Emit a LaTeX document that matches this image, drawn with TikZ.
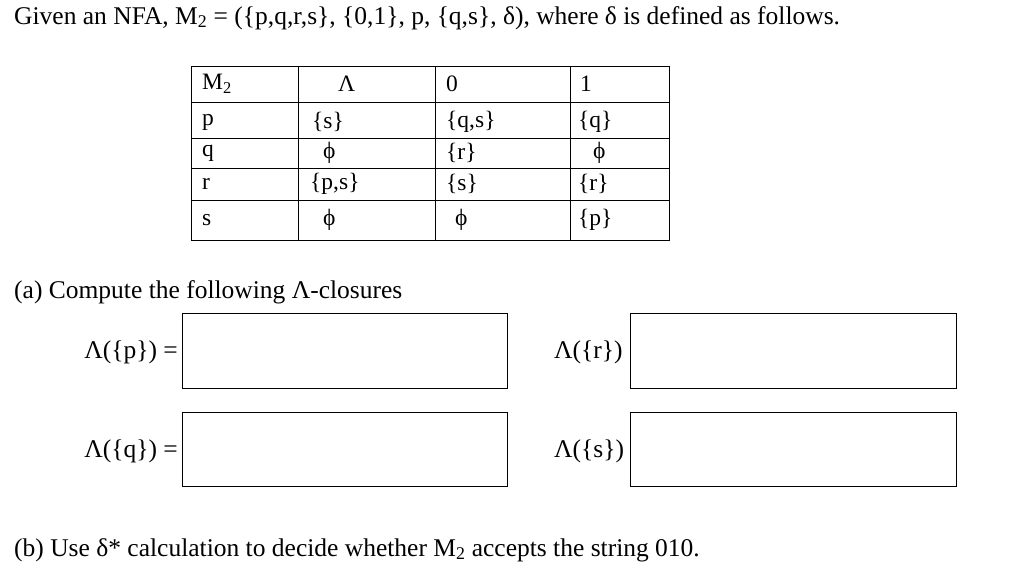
\documentclass[tikz,border=0pt]{standalone}
\usepackage{fontspec}
\setmainfont{Liberation Serif}
\begin{document}
\begin{tikzpicture}[x=1pt,y=-1pt,
  txt/.style={anchor=west,inner sep=0pt,font=\fontsize{25.5}{28}\selectfont},
  cell/.style={anchor=west,inner sep=0pt,font=\fontsize{23.5}{26}\selectfont},
  ansbox/.style={draw,line width=1pt}]
\useasboundingbox[fill=white] (0,0) rectangle (1014,570);
\node[txt] (title) at (14,18) {Given an NFA, M\textsubscript{2} = (\{p,q,r,s\}, \{0,1\}, p, \{q,s\}, δ), where δ is defined as follows.};
% table
\draw[line width=1pt] (191,66) rectangle (669,240);
\foreach \x in {298,435,570} \draw[line width=1pt] (\x,66) -- (\x,240);
\foreach \y in {102,138,168,200} \draw[line width=1pt] (191,\y) -- (669,\y);
\node[cell] (h0) at (202,84) {M\textsubscript{2}};
\node[cell] (h1) at (338,84) {Λ};
\node[cell] (h2) at (446,84) {0};
\node[cell] (h3) at (580,84) {1};
\node[cell] (rp) at (202,122) {p};
\node[cell] (rq) at (202,153) {q};
\node[cell] (rr) at (202,184) {r};
\node[cell] (rs) at (202,220) {s};
\node[cell] (p1) at (312,122) {\{s\}};
\node[cell] (p2) at (446,122) {\{q,s\}};
\node[cell] (p3) at (578,122) {\{q\}};
\node[cell] (q1) at (323,153) {ϕ};
\node[cell] (q2) at (446,153) {\{r\}};
\node[cell] (q3) at (593,153) {ϕ};
\node[cell] (r1) at (310,184) {\{p,s\}};
\node[cell] (r2) at (446,184) {\{s\}};
\node[cell] (r3) at (578,184) {\{r\}};
\node[cell] (s1) at (323,220) {ϕ};
\node[cell] (s2) at (455,220) {ϕ};
\node[cell] (s3) at (578,220) {\{p\}};
% part a
\node[txt] (a) at (14,292) {(a) Compute the following Λ-closures};
\draw[ansbox] (182,313) rectangle (507,388);
\draw[ansbox] (630,313) rectangle (956,388);
\draw[ansbox] (182,412) rectangle (507,486);
\draw[ansbox] (630,412) rectangle (956,486);
\node[txt,anchor=east] (lp) at (178,352) {Λ(\{p\}) =};
\node[txt,anchor=east] (lq) at (178,451) {Λ(\{q\}) =};
\node[txt] (lr) at (554,352) {Λ(\{r\})};
\node[txt] (ls) at (554,451) {Λ(\{s\})};
\node[txt] (b) at (14,550) {(b) Use δ* calculation to decide whether M\textsubscript{2} accepts the string 010.};
\end{tikzpicture}
\end{document}
